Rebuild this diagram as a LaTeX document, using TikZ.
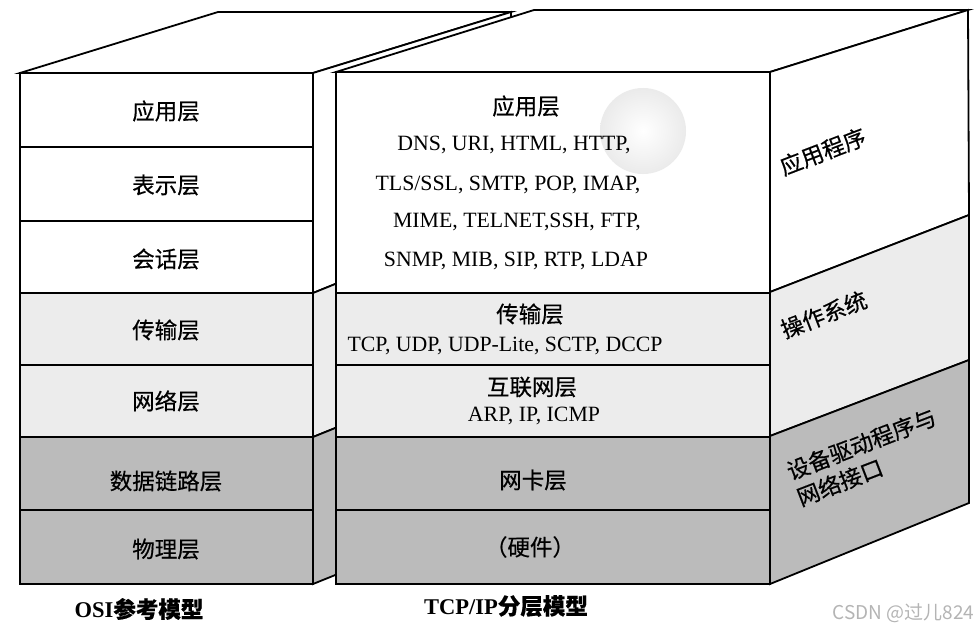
\documentclass[tikz,border=0pt]{standalone}
\usepackage{fontspec}
\setmainfont{Liberation Serif}
\newfontfamily\cjk[FakeBold=0.5]{Noto Sans CJK SC}
\newfontfamily\cjkplain{Noto Sans CJK SC}
\definecolor{lightz}{HTML}{ECECEC}
\definecolor{darkz}{HTML}{BBBBBB}
\definecolor{wmark}{HTML}{B4B4B4}
\begin{document}
\begin{tikzpicture}[x=1pt,y=-1pt,line width=1.8pt,line join=miter,
  wz/.style={fill=white,draw=black,line width=1.8pt},
  lz/.style={fill=lightz,draw=black,line width=1.8pt},
  dz/.style={fill=darkz,draw=black,line width=1.8pt},
  cn/.style={font=\cjk\fontsize{22.5}{26}\selectfont,inner sep=0pt},
  ln/.style={font=\fontsize{21.8}{26}\selectfont,inner sep=0pt},
  sidetext/.style={font=\cjk\fontsize{22.5}{26}\selectfont,rotate=21,anchor=base west,inner sep=0pt},
  caption/.style={font=\bfseries\fontsize{22.5}{26}\selectfont,inner sep=0pt}]
\useasboundingbox (0,0) rectangle (978,634);

% ---------- left box (OSI) ----------
% top face
\path[wz] (20,73) -- (218,12) -- (511,12) -- (313,73) -- cycle;
% side face
\path[wz] (313,73) -- (511,12) -- (511,213) -- (313,293) -- cycle;
\path[lz] (313,293) -- (511,213) -- (511,357) -- (313,437) -- cycle;
\path[dz] (313,437) -- (511,357) -- (511,504) -- (313,584) -- cycle;
% front face
\path[wz] (20,73) rectangle (313,147);
\path[wz] (20,147) rectangle (313,221);
\path[wz] (20,221) rectangle (313,293);
\path[lz] (20,293) rectangle (313,365);
\path[lz] (20,365) rectangle (313,437);
\path[dz] (20,437) rectangle (313,510);
\path[dz] (20,510) rectangle (313,584);

% ---------- right box (TCP/IP) ----------
% top face
\path[wz] (336,72) -- (534,10) -- (968,10) -- (770,72) -- cycle;
% right face
\path[wz] (770,72) -- (968,10) -- (969,215) -- (770,292) -- cycle;
\path[lz] (770,292) -- (969,215) -- (969,360) -- (770,436) -- cycle;
\path[dz] (770,436) -- (969,360) -- (969,503) -- (770,584) -- cycle;
% front face
\path[wz] (336,72) rectangle (770,293);
\path[lz] (336,293) rectangle (770,365);
\path[lz] (336,365) rectangle (770,437);
\path[dz] (336,437) rectangle (770,510);
\path[dz] (336,510) rectangle (770,584);

% glare spot
\shade[inner color=white,outer color=black!8] (643,131) circle[radius=43];

% ---------- OSI labels ----------
\node[cn] (o7) at (166,111) {应用层};
\node[cn] (o6) at (166,185) {表示层};
\node[cn] (o5) at (166,259) {会话层};
\node[cn] (o4) at (166,330) {传输层};
\node[cn] (o3) at (166,401) {网络层};
\node[cn] (o2) at (166,481) {数据链路层};
\node[cn] (o1) at (166,549) {物理层};

% ---------- TCP/IP labels ----------
\node[cn] (t4) at (526,106) {应用层};
\node[ln] (t4a) at (514,145) {DNS, URI, HTML, HTTP,};
\node[ln] (t4b) at (508,185) {TLS/SSL, SMTP, POP, IMAP,};
\node[ln] (t4c) at (517,222) {MIME, TELNET,SSH, FTP,};
\node[ln] (t4d) at (516,261) {SNMP, MIB, SIP, RTP, LDAP};
\node[cn] (t3) at (530,314) {传输层};
\node[ln] (t3a) at (505,346) {TCP, UDP, UDP-Lite, SCTP, DCCP};
\node[cn] (t2) at (532,387) {互联网层};
\node[ln] (t2a) at (534,416) {ARP, IP, ICMP};
\node[cn] (t1) at (533,480) {网卡层};
\node[cn] (t0) at (530,547) {（硬件）};

% ---------- right face labels ----------
\node[sidetext] (s1) at (783,176) {应用程序};
\node[sidetext] (s2) at (784,339) {操作系统};
\node[sidetext,align=left,anchor=north west,font=\cjk\fontsize{22.5}{28}\selectfont] (s3) at (783,462) {设备驱动程序与\\网络接口};

% ---------- captions ----------
\node[caption] (c1) at (139,609) {OSI{\cjk 参考模型}};
\node[caption] (c2) at (506,606) {TCP/IP{\cjk 分层模型}};

% watermark
\node[font=\cjkplain\fontsize{19}{22}\selectfont,text=wmark,inner sep=0pt,anchor=east] (wm) at (975,613) {CSDN @过儿824};
\end{tikzpicture}
\end{document}
